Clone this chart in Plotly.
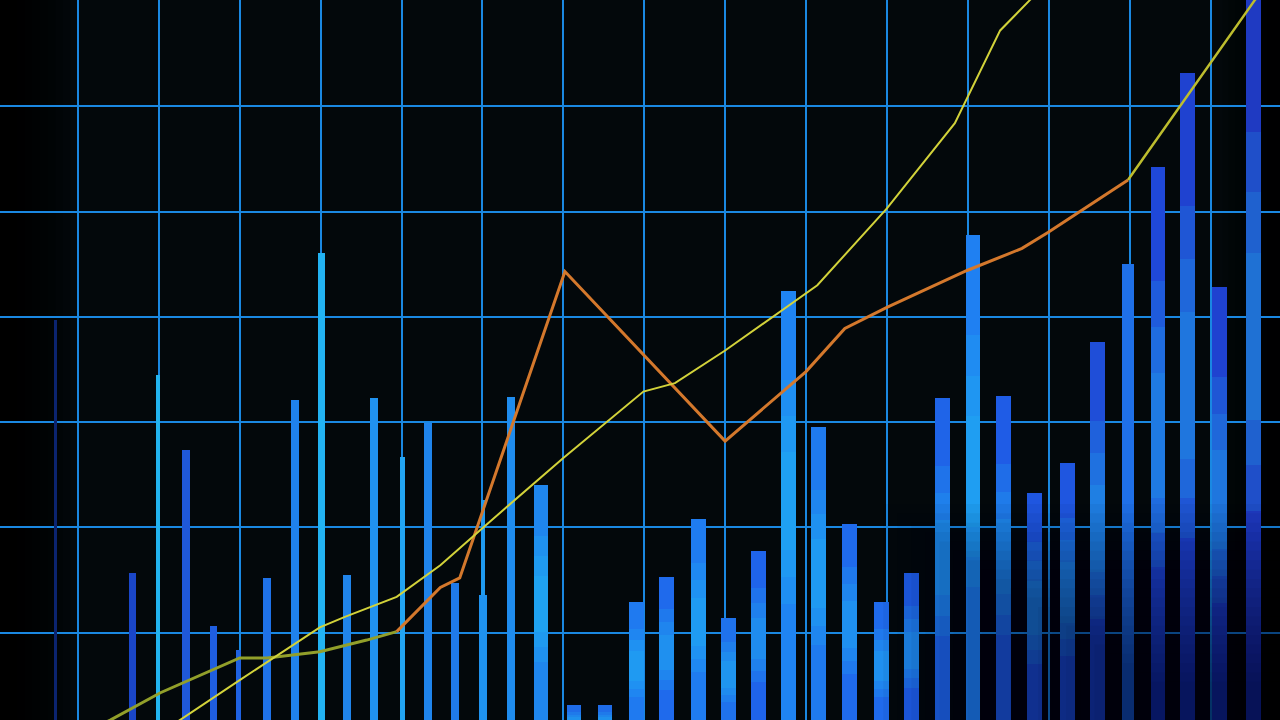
import plotly.graph_objects as go

# ---- data (period on x, value on y) ----
bar_period = [7.2, 16.8, 19.9, 23.4, 26.7, 29.9, 33.4, 36.8, 40.1, 43.3, 46.6, 50.1,
              53.3, 56.6, 60.1, 63.5, 67.3, 71.3, 75.2, 79.0, 82.7, 86.7, 90.4, 94.1,
              97.8, 101.5, 105.4, 109.3, 113.1, 116.9, 120.6, 124.4, 128.2, 132.3,
              136.0, 139.8, 143.5, 147.2, 151.1, 155.3]
bar_value = [39.7, 15.7, 34.5, 27.4, 10.6, 8.4, 15.2, 32.1, 46.1, 15.5, 32.3, 26.7,
             29.9, 14.7, 13.6, 32.4, 24.0, 3.1, 3.1, 12.9, 15.3, 20.8, 11.4, 17.8,
             42.5, 29.5, 20.3, 12.9, 15.7, 32.3, 47.8, 32.5, 23.3, 26.1,
             37.6, 45.0, 54.2, 63.2, 42.8, 72.0]

spike_period = [60.1]
spike_value = [22.6]

line_a_period = [20.8, 22.6, 30.0, 39.9, 43.0, 49.4, 54.8, 60.1, 70.0, 79.9, 83.8,
                 90.0, 101.4, 110.0, 118.4, 120.0, 124.0, 127.7, 131.4]
line_a_value = [0.8, 1.7, 5.5, 10.5, 11.5, 13.4, 16.4, 20.0, 26.6, 32.9, 33.7,
                36.8, 43.0, 50.3, 58.4, 60.9, 67.2, 70.1, 72.9]

line_b_period = [12.1, 14.0, 20.2, 30.0, 33.4, 39.9, 45.7, 49.4, 54.8, 57.2, 70.2,
                 90.0, 100.0, 104.8, 110.0, 119.9, 126.7, 129.9, 139.8, 155.5, 157.4]
line_b_value = [1.0, 1.7, 4.3, 7.6, 7.6, 8.2, 9.3, 10.1, 14.3, 15.2, 44.3,
                28.2, 34.8, 38.9, 40.9, 44.4, 46.5, 48.0, 53.0, 70.1, 72.0]

# ---- styles ----
bar_colors = ["#0b2470", "#1a46c8", "#22b4f0", "#1f58da", "#1f5ee0", "#1f62e2",
              "#1f72e8", "#1f82ec", "#22b2f2", "#2084ea", "#2092f0", "#22a4f2",
              "#1f84ec", "#1f7aea", "#1f92ee", "#1f8cee", "#1f86ee", "#1f6ce8",
              "#1f6ce8", "#1f7af0", "#1f6aec", "#1f7cf0", "#1f72ec", "#1f64ea",
              "#1f84f2", "#1f7aee", "#1f6aec", "#1f6aec", "#1f5ce8", "#1f64e8",
              "#1f80f2", "#1f5ce6", "#1f56e0", "#1f56e0", "#1f4ed8", "#1f70e8",
              "#1f48d8", "#1f42d0", "#1f42d0", "#1f3ac2"]
bar_px = [3, 7, 4, 8, 7, 5, 8, 8, 7, 8, 8, 5, 8, 8, 8, 8, 14, 14, 14, 15, 15, 15,
          15, 15, 15, 15, 15, 15, 15, 15, 14, 15, 15, 15, 15, 12, 14, 15, 15, 15]
PX = 8.09  # pixels per x unit
bar_widths = [w / PX for w in bar_px]

# soft cyan highlight in the middle of the wider bars
glow_idx = [i for i, w in enumerate(bar_px) if w >= 14]
glow_x = [bar_period[i] for i in glow_idx]
glow_w = [bar_widths[i] for i in glow_idx]
glow_layers = [(0.30, 0.50, 0.14), (0.36, 0.36, 0.14), (0.42, 0.22, 0.14)]

fig = go.Figure()

fig.add_trace(go.Bar(x=spike_period, y=spike_value, width=[4 / PX],
                     marker=dict(color="#1f9af0", line=dict(width=0)),
                     hoverinfo="skip", showlegend=False))
fig.add_trace(go.Bar(x=bar_period, y=bar_value, width=bar_widths,
                     marker=dict(color=bar_colors, line=dict(width=0)),
                     showlegend=False))
for b0, h, op in glow_layers:
    fig.add_trace(go.Bar(x=glow_x, y=[h * bar_value[i] for i in glow_idx],
                         base=[b0 * bar_value[i] for i in glow_idx], width=glow_w,
                         marker=dict(color="#26d4fa", opacity=op, line=dict(width=0)),
                         hoverinfo="skip", showlegend=False))

# line B split into three coloured stretches
i1 = line_b_period.index(49.4)
i2 = line_b_period.index(139.8)
fig.add_trace(go.Scatter(x=line_b_period[:i1 + 1], y=line_b_value[:i1 + 1], mode="lines",
                         line=dict(color="#929f2a", width=3), showlegend=False))
fig.add_trace(go.Scatter(x=line_b_period[i1:i2 + 1], y=line_b_value[i1:i2 + 1], mode="lines",
                         line=dict(color="#d4782c", width=3), showlegend=False))
fig.add_trace(go.Scatter(x=line_b_period[i2:], y=line_b_value[i2:], mode="lines",
                         line=dict(color="#bdbd2e", width=2.5), showlegend=False))
fig.add_trace(go.Scatter(x=line_a_period, y=line_a_value, mode="lines",
                         line=dict(color="#d2d23a", width=2), showlegend=False))

# edge fades
shapes = []
for k in range(8):
    shapes.append(dict(type="rect", xref="paper", yref="paper", x0=0, x1=0.055 - k * 0.006,
                       y0=0, y1=1, fillcolor="#000000", opacity=0.16, line=dict(width=0),
                       layer="between"))
    shapes.append(dict(type="rect", xref="paper", yref="paper", x0=0.955 + k * 0.005, x1=1,
                       y0=0, y1=1, fillcolor="#000000", opacity=0.12, line=dict(width=0),
                       layer="between"))
for k in range(20):
    shapes.append(dict(type="rect", xref="paper", yref="paper", x0=0.69 + k * 0.011, x1=1,
                       y0=0, y1=0.30 - k * 0.013, fillcolor="#00000c", opacity=0.045,
                       line=dict(width=0), layer="above"))

fig.update_layout(
    width=1280, height=720,
    margin=dict(l=0, r=0, t=0, b=0),
    paper_bgcolor="#020507", plot_bgcolor="#03080b",
    barmode="overlay", bargap=0,
    shapes=shapes,
    xaxis=dict(range=[0.37, 158.59], tick0=0, dtick=10, showgrid=True,
               gridcolor="#1a88e2", gridwidth=2, zeroline=False,
               showticklabels=False, ticks="", showline=False, fixedrange=True),
    yaxis=dict(range=[1.71, 70.09], tick0=0, dtick=10, showgrid=True,
               gridcolor="#1a88e2", gridwidth=2, zeroline=False,
               showticklabels=False, ticks="", showline=False, fixedrange=True),
)

fig.write_html("out.html", config={"displayModeBar": False},
               post_script="document.body.style.margin='0';document.body.style.background='#020507';")
